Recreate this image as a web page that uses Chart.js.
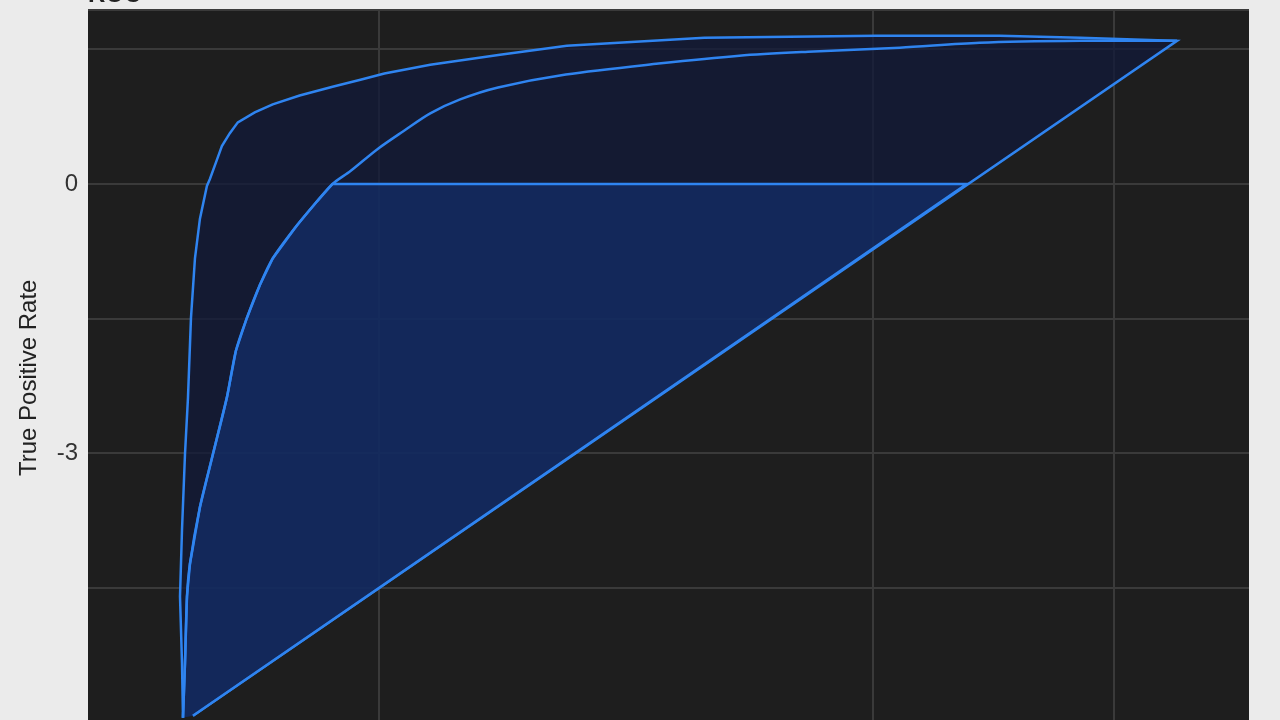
<!DOCTYPE html>
<html>
<head>
<meta charset="utf-8">
<title>ROC</title>
<script src="https://cdn.jsdelivr.net/npm/chart.js@4/dist/chart.umd.min.js"></script>
<style>
  html, body { margin: 0; padding: 0; background: #ebebeb; overflow: hidden; }
  body { width: 1280px; height: 720px; position: relative; }
  #wrap { position: absolute; left: 0; top: -30px; width: 1280px; height: 800px; }
</style>
</head>
<body>
<div id="wrap"><canvas id="rocChart"></canvas></div>
<script>
// outer curve (model A)
const fprA = [0.003, 0.002, 0.000, 0.002, 0.005, 0.008, 0.011, 0.015, 0.020, 0.027, 0.030, 0.038, 0.042, 0.050,
              0.058, 0.075, 0.093, 0.120, 0.154, 0.181, 0.205, 0.251, 0.321, 0.388, 0.526, 0.698, 0.822, 0.903, 1.000];
const tprA = [-5.945, -5.336, -4.594, -3.853, -3.011, -2.380, -1.495, -0.830, -0.387, -0.022, 0.055, 0.299, 0.421, 0.565,
              0.686, 0.797, 0.886, 0.985, 1.085, 1.160, 1.229, 1.328, 1.439, 1.539, 1.627, 1.650, 1.650, 1.627, 1.594];

// inner curve (model B)
const fprB = [0.003, 0.005, 0.007, 0.010, 0.020, 0.033, 0.047, 0.056, 0.067, 0.080, 0.093, 0.117, 0.137, 0.153,
              0.171, 0.198, 0.224, 0.251, 0.281, 0.319, 0.387, 0.480, 0.561, 0.630, 0.722, 0.802, 0.903, 1.000];
const tprB = [-5.945, -5.336, -4.594, -4.229, -3.598, -3.011, -2.380, -1.860, -1.495, -1.129, -0.830, -0.465, -0.199, 0.000,
              0.144, 0.387, 0.587, 0.786, 0.941, 1.074, 1.218, 1.340, 1.428, 1.472, 1.517, 1.572, 1.594, 1.594];

// chance diagonal and threshold line
const chanceFpr = [0.013, 1.000];
const chanceTpr = [-5.923, 1.594];
const thresholdTpr = 0;
const thresholdEndFpr = 0.789;

// axis ticks
const xGridValues = [0.2, 0.695, 0.937];
const yLabelledTicks = [0, -3];

const lineBlue = '#2f84f0';

function toPoints(xs, ys) {
    return xs.map((x, i) => ({ x: x, y: ys[i] }));
}

const curveA = toPoints(fprA, tprA);
const curveB = toPoints(fprB, tprB);
const chance = toPoints(chanceFpr, chanceTpr);

// shape under curve A down to the diagonal
const shapeA = curveA.concat([chance[0]]);
// shape under curve B, below the threshold line, down to the diagonal
const lowerB = curveB.filter(p => p.y <= thresholdTpr)
    .concat([{ x: thresholdEndFpr, y: thresholdTpr }, chance[0]]);

// dark plot background
const plotBackground = {
    id: 'plotBackground',
    beforeDraw(chart) {
        const { ctx, chartArea } = chart;
        ctx.save();
        ctx.fillStyle = '#1e1e1e';
        ctx.fillRect(chartArea.left, chartArea.top, chartArea.width, chartArea.height);
        ctx.restore();
    }
};

const ctx = document.getElementById('rocChart').getContext('2d');
new Chart(ctx, {
    type: 'scatter',
    data: {
        datasets: [
            {
                label: 'Model B',
                data: curveB,
                showLine: true,
                borderColor: lineBlue,
                borderWidth: 2.5,
                pointRadius: 0,
                tension: 0.3,
                fill: false
            },
            {
                label: 'Model B (threshold)',
                data: lowerB,
                showLine: true,
                borderColor: lineBlue,
                borderWidth: 2.5,
                pointRadius: 0,
                backgroundColor: 'rgba(18, 50, 116, 0.6)',
                fill: 'shape'
            },
            {
                label: 'Model A',
                data: shapeA,
                showLine: true,
                borderColor: lineBlue,
                borderWidth: 2.5,
                pointRadius: 0,
                backgroundColor: 'rgba(17, 26, 58, 0.75)',
                fill: 'shape'
            }
        ]
    },
    options: {
        responsive: true,
        maintainAspectRatio: false,
        animation: false,
        layout: { padding: { left: 0, right: 31, top: 0, bottom: 0 } },
        plugins: {
            legend: { display: false },
            tooltip: { enabled: false },
            title: {
                display: true,
                text: 'ROC',
                align: 'start',
                fullSize: false,
                color: '#222',
                font: { family: 'Liberation Sans, Arial, sans-serif', size: 24, lineHeight: 1.2 },
                padding: { top: 11, bottom: 0.2 }
            }
        },
        scales: {
            x: {
                type: 'linear',
                min: -0.09228,
                max: 1.07222,
                afterBuildTicks(scale) {
                    scale.ticks = xGridValues.map(v => ({ value: v }));
                },
                afterFit(scale) { scale.height = 20; },
                ticks: { display: false },
                border: { display: false },
                grid: { color: '#3a3a3a', lineWidth: 2, drawTicks: false }
            },
            y: {
                type: 'linear',
                min: -6.255,
                max: 1.937,
                afterFit(scale) { scale.width = 88; },
                ticks: {
                    stepSize: 1.5,
                    padding: 10,
                    color: '#333',
                    font: { family: 'Liberation Sans, Arial, sans-serif', size: 24 },
                    callback: (value) => yLabelledTicks.includes(value) ? String(value) : ''
                },
                title: {
                    display: true,
                    text: 'True Positive Rate',
                    color: '#222',
                    font: { family: 'Liberation Sans, Arial, sans-serif', size: 24 },
                    padding: { top: 15, bottom: 0 }
                },
                border: { display: false },
                grid: { color: '#3a3a3a', lineWidth: 2, drawTicks: false }
            }
        }
    },
    plugins: [plotBackground]
});
</script>
</body>
</html>
